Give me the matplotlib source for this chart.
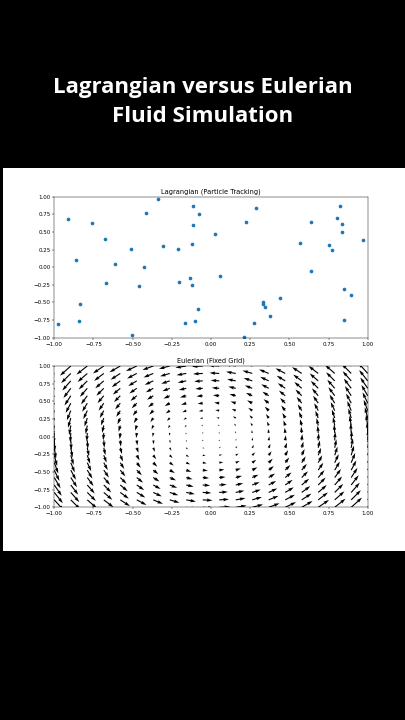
import matplotlib
matplotlib.use("Agg")
import matplotlib.pyplot as plt
import numpy as np
from matplotlib.patches import Rectangle

# particle positions
px = [-0.974, -0.915, -0.862, -0.838, -0.840, -0.762, -0.679, -0.670, -0.611, -0.511,
      -0.504, -0.457, -0.426, -0.413, -0.340, -0.306, -0.211, -0.202, -0.164, -0.132,
      -0.123, -0.119, -0.117, -0.115, -0.100, -0.083, -0.074, 0.026, 0.055, 0.209,
      0.221, 0.277, 0.289, 0.334, 0.334, 0.345, 0.377, 0.438, 0.566, 0.640,
      0.640, 0.751, 0.772, 0.804, 0.826, 0.838, 0.838, 0.851, 0.847, 0.894, 0.970]
py = [-0.806, 0.688, 0.097, -0.522, -0.764, 0.631, 0.400, -0.220, 0.040, 0.258,
      -0.957, -0.267, -0.002, 0.764, 0.962, 0.300, 0.253, -0.215, -0.792, -0.158,
      0.329, -0.253, 0.598, 0.872, -0.764, -0.589, 0.749, 0.466, -0.125, -0.995,
      0.641, -0.792, 0.835, -0.499, -0.527, -0.560, -0.697, -0.433, 0.348, 0.641,
      -0.059, 0.310, 0.239, 0.702, 0.872, 0.608, 0.499, -0.314, -0.745, -0.390, 0.385]

# fixed grid for the Eulerian panel
grid = np.linspace(-1, 1, 20)
gx, gy = np.meshgrid(grid, grid)
u = -gy
v = gx

ticks = [-1.0, -0.75, -0.5, -0.25, 0.0, 0.25, 0.5, 0.75, 1.0]
tick_labels = ["\u22121.00", "\u22120.75", "\u22120.50", "\u22120.25", "0.00", "0.25", "0.50", "0.75", "1.00"]

fig = plt.figure(figsize=(4.05, 7.2), dpi=100, facecolor="black")
fig.patches.append(Rectangle((3 / 405, 169 / 720), 402 / 405, 383 / 720,
                             transform=fig.transFigure, facecolor="white",
                             edgecolor="none", zorder=-10))

fig.text(0.5, 633 / 720, "Lagrangian versus Eulerian", color="white", ha="center",
         va="center", fontsize=16, fontweight="bold", family="Open Sans")
fig.text(0.5, 603 / 720, "Fluid Simulation", color="white", ha="center",
         va="center", fontsize=16, fontweight="bold", family="Open Sans")

ax1 = fig.add_axes([54.3 / 405, (720 - 337.7) / 720, 313.4 / 405, 141 / 720])
ax2 = fig.add_axes([54.3 / 405, (720 - 507.3) / 720, 313.4 / 405, 141.3 / 720])

ax1.scatter(px, py, s=7, color="#1f77b4", linewidths=0)
ax1.set_title("Lagrangian (Particle Tracking)", fontsize=4.8, pad=2.4)

ax2.quiver(gx, gy, u, v, width=0.0036)
ax2.set_title("Eulerian (Fixed Grid)", fontsize=4.8, pad=2.4)

for ax in (ax1, ax2):
    ax.set_xlim(-1, 1)
    ax.set_ylim(-1, 1)
    ax.set_xticks(ticks)
    ax.set_xticklabels(tick_labels)
    ax.set_yticks(ticks)
    ax.set_yticklabels(tick_labels)
    ax.tick_params(labelsize=4, length=1.4, width=0.32, pad=1.4)
    for s in ax.spines.values():
        s.set_linewidth(0.32)

fig.savefig("out.png", dpi=100, facecolor="black")
